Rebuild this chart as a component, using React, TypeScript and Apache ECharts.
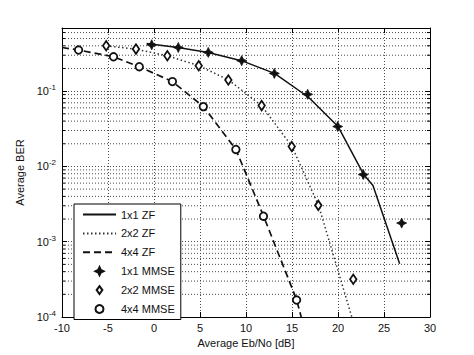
import React, { useEffect, useRef } from "react";
import * as echarts from "echarts";

// ---- data ----
const X_MIN = -10;
const X_MAX = 30;
const Y_MIN = 1e-4;
const Y_MAX = 0.69;

const ZF_1X1_X = [-0.8, 2.6, 5.9, 9.5, 13.1, 16.8, 20.0, 22.8, 23.8, 26.7];
const ZF_1X1_Y = [0.43, 0.38, 0.327, 0.254, 0.172, 0.083, 0.034, 0.0078, 0.0056, 0.00051];

const ZF_2X2_X = [-5.2, -2.0, 1.45, 4.86, 8.1, 11.7, 15.0, 17.9, 21.5];
const ZF_2X2_Y = [0.4, 0.362, 0.295, 0.218, 0.141, 0.064, 0.0184, 0.003, 0.0001];

const ZF_4X4_X = [-10, -8.2, -4.4, -1.6, 2.0, 5.4, 8.9, 11.9, 15.5, 16.0];
const ZF_4X4_Y = [0.38, 0.352, 0.286, 0.211, 0.134, 0.062, 0.0168, 0.0022, 0.00017, 0.0001];

const MMSE_1X1_X = [-0.25, 2.64, 5.9, 9.53, 13.08, 16.7, 19.97, 22.75, 26.92];
const MMSE_1X1_Y = [0.413, 0.38, 0.327, 0.254, 0.172, 0.0907, 0.0339, 0.0078, 0.00177];

const MMSE_2X2_X = [-5.2, -1.96, 1.45, 4.86, 8.08, 11.7, 14.97, 17.86, 21.66];
const MMSE_2X2_Y = [0.401, 0.362, 0.295, 0.218, 0.141, 0.0643, 0.0184, 0.00304, 0.000318];

const MMSE_4X4_X = [-8.2, -4.4, -1.6, 2.0, 5.36, 8.9, 11.9, 15.5];
const MMSE_4X4_Y = [0.352, 0.286, 0.211, 0.134, 0.0623, 0.0168, 0.00218, 0.000168];

const MINOR_Y = [
  2e-4, 3e-4, 4e-4, 5e-4, 6e-4, 7e-4, 8e-4, 9e-4,
  2e-3, 3e-3, 4e-3, 5e-3, 6e-3, 7e-3, 8e-3, 9e-3,
  2e-2, 3e-2, 4e-2, 5e-2, 6e-2, 7e-2, 8e-2, 9e-2,
  0.2, 0.3, 0.4, 0.5, 0.6,
];

const NAMES = ["1x1 ZF", "2x2 ZF", "4x4 ZF", "1x1 MMSE", "2x2 MMSE", "4x4 MMSE"];

const zip = (xs: number[], ys: number[]) => xs.map((x, i) => [x, ys[i]]);

const FONT = "Liberation Sans";
const GRID_COLOR = "#4a4a4a";
const INK = "#111";
const STAR = "path://M5,0 L6.6,3.4 L10,5 L6.6,6.6 L5,10 L3.4,6.6 L0,5 L3.4,3.4 Z";
const DIAMOND = "path://M5,0 L10,7 L5,14 L0,7 Z";

export default function App() {
  const ref = useRef<HTMLDivElement>(null);
  useEffect(() => {
    if (!ref.current) return;
    const chart = echarts.init(ref.current, undefined, { renderer: "svg" });
    const tickStyle = { color: "#000", width: 1 };
    const dotted = { color: GRID_COLOR, type: [1, 2] as number[], width: 1 };
    const yLabel = (v: number) => {
      const l = Math.log10(v);
      const e = Math.round(l);
      if (Math.abs(l - e) > 1e-6) return "";
      return `{b|10}{s|${e}}`;
    };
    const hiddenSymbol = { color: "transparent", borderColor: "transparent", borderWidth: 0, opacity: 0 };
    chart.setOption({
      animation: false,
      backgroundColor: "#fff",
      textStyle: { fontFamily: FONT },
      grid: { left: 62, top: 28, right: 44, bottom: 38, containLabel: false, outerBoundsMode: "none" },
      legend: {
        data: [
          { name: NAMES[0], itemStyle: hiddenSymbol },
          { name: NAMES[1], itemStyle: hiddenSymbol },
          { name: NAMES[2], itemStyle: hiddenSymbol },
          { name: NAMES[3] },
          { name: NAMES[4] },
          { name: NAMES[5] },
        ],
        orient: "vertical",
        left: 74,
        top: 204,
        backgroundColor: "#fff",
        borderColor: "#000",
        borderWidth: 1,
        borderRadius: 0,
        padding: [5, 6, 5, 8],
        itemWidth: 33,
        itemHeight: 8,
        itemGap: 7.9,
        symbolKeepAspect: true,
        textStyle: { fontFamily: FONT, fontSize: 11, color: INK },
      },
      xAxis: [
        {
          type: "value",
          min: X_MIN,
          max: X_MAX,
          interval: 5,
          position: "bottom",
          name: "Average Eb/No [dB]",
          nameLocation: "middle",
          nameGap: 18,
          nameTextStyle: { fontFamily: FONT, fontSize: 11, color: INK },
          axisLine: { show: true, onZero: false, lineStyle: tickStyle },
          axisTick: { show: true, inside: true, length: 5, lineStyle: tickStyle },
          axisLabel: { fontFamily: FONT, fontSize: 11, color: INK, margin: 5 },
          splitLine: { show: true, lineStyle: dotted },
        },
        {
          type: "value",
          min: X_MIN,
          max: X_MAX,
          interval: 5,
          position: "top",
          axisLine: { show: true, onZero: false, lineStyle: tickStyle },
          axisTick: { show: true, inside: true, length: 5, lineStyle: tickStyle },
          axisLabel: { show: false },
          splitLine: { show: false },
        },
      ],
      yAxis: [
        {
          type: "log",
          logBase: 10,
          min: Y_MIN,
          max: Y_MAX,
          position: "left",
          name: "Average BER",
          nameLocation: "middle",
          nameGap: 20,
          nameTextStyle: { fontFamily: FONT, fontSize: 11, color: INK },
          axisLine: { show: true, onZero: false, lineStyle: tickStyle },
          axisTick: { show: true, inside: true, length: 5, lineStyle: tickStyle },
          axisLabel: {
            margin: 6,
            formatter: yLabel,
            rich: {
              b: { fontFamily: FONT, fontSize: 11, color: INK },
              s: { fontFamily: FONT, fontSize: 8, color: INK, verticalAlign: "bottom", padding: [0, 0, 7, 0] },
            },
          },
          splitLine: { show: true, lineStyle: dotted },
        },
        {
          type: "log",
          logBase: 10,
          min: Y_MIN,
          max: Y_MAX,
          position: "right",
          axisLine: { show: true, onZero: false, lineStyle: tickStyle },
          axisTick: { show: true, inside: true, length: 5, lineStyle: tickStyle },
          axisLabel: { show: false },
          splitLine: { show: false },
        },
      ],
      series: [
        {
          type: "custom",
          name: "minor",
          silent: true,
          xAxisIndex: 0,
          yAxisIndex: 0,
          z: 1,
          data: MINOR_Y.map((v) => [X_MIN, v]),
          encode: { x: 0, y: 1 },
          renderItem: (_p: any, api: any) => {
            const v = api.value(1);
            const a = api.coord([X_MIN, v]);
            const b = api.coord([X_MAX, v]);
            return {
              type: "group",
              children: [
                {
                  type: "line",
                  shape: { x1: a[0], y1: a[1], x2: b[0], y2: b[1] },
                  style: { stroke: GRID_COLOR, lineWidth: 1, lineDash: [1, 2] },
                },
                {
                  type: "line",
                  shape: { x1: a[0], y1: a[1], x2: a[0] + 3, y2: a[1] },
                  style: { stroke: "#000", lineWidth: 1 },
                },
                {
                  type: "line",
                  shape: { x1: b[0] - 3, y1: b[1], x2: b[0], y2: b[1] },
                  style: { stroke: "#000", lineWidth: 1 },
                },
              ],
            };
          },
        },
        {
          name: NAMES[0],
          type: "line",
          data: zip(ZF_1X1_X, ZF_1X1_Y),
          symbol: "circle",
          showSymbol: false,
          z: 3,
          lineStyle: { color: INK, width: 1.5, type: "solid" },
          itemStyle: { color: INK },
        },
        {
          name: NAMES[1],
          type: "line",
          data: zip(ZF_2X2_X, ZF_2X2_Y),
          symbol: "circle",
          showSymbol: false,
          z: 3,
          lineStyle: { color: "#333", width: 1.5, type: [1.5, 2.5] },
          itemStyle: { color: "#333" },
        },
        {
          name: NAMES[2],
          type: "line",
          data: zip(ZF_4X4_X, ZF_4X4_Y),
          symbol: "circle",
          showSymbol: false,
          z: 3,
          lineStyle: { color: INK, width: 1.7, type: [7, 4] },
          itemStyle: { color: INK },
        },
        {
          name: NAMES[3],
          type: "scatter",
          data: zip(MMSE_1X1_X, MMSE_1X1_Y),
          symbol: STAR,
          symbolSize: 10,
          z: 4,
          itemStyle: { color: INK, borderColor: INK, borderWidth: 0.8, opacity: 1 },
        },
        {
          name: NAMES[4],
          type: "scatter",
          data: zip(MMSE_2X2_X, MMSE_2X2_Y),
          symbol: DIAMOND,
          symbolSize: [6.5, 9.5],
          z: 4,
          itemStyle: { color: "#fff", borderColor: INK, borderWidth: 1.8, opacity: 1 },
        },
        {
          name: NAMES[5],
          type: "scatter",
          data: zip(MMSE_4X4_X, MMSE_4X4_Y),
          symbol: "circle",
          symbolSize: 7.5,
          z: 4,
          itemStyle: { color: "#fff", borderColor: INK, borderWidth: 1.8, opacity: 1 },
        },
      ],
    });
    return () => chart.dispose();
  }, []);
  return (
    <div
      ref={ref}
      style={{ position: "fixed", left: 0, top: 0, width: 474, height: 355, background: "#fff" }}
    />
  );
}
